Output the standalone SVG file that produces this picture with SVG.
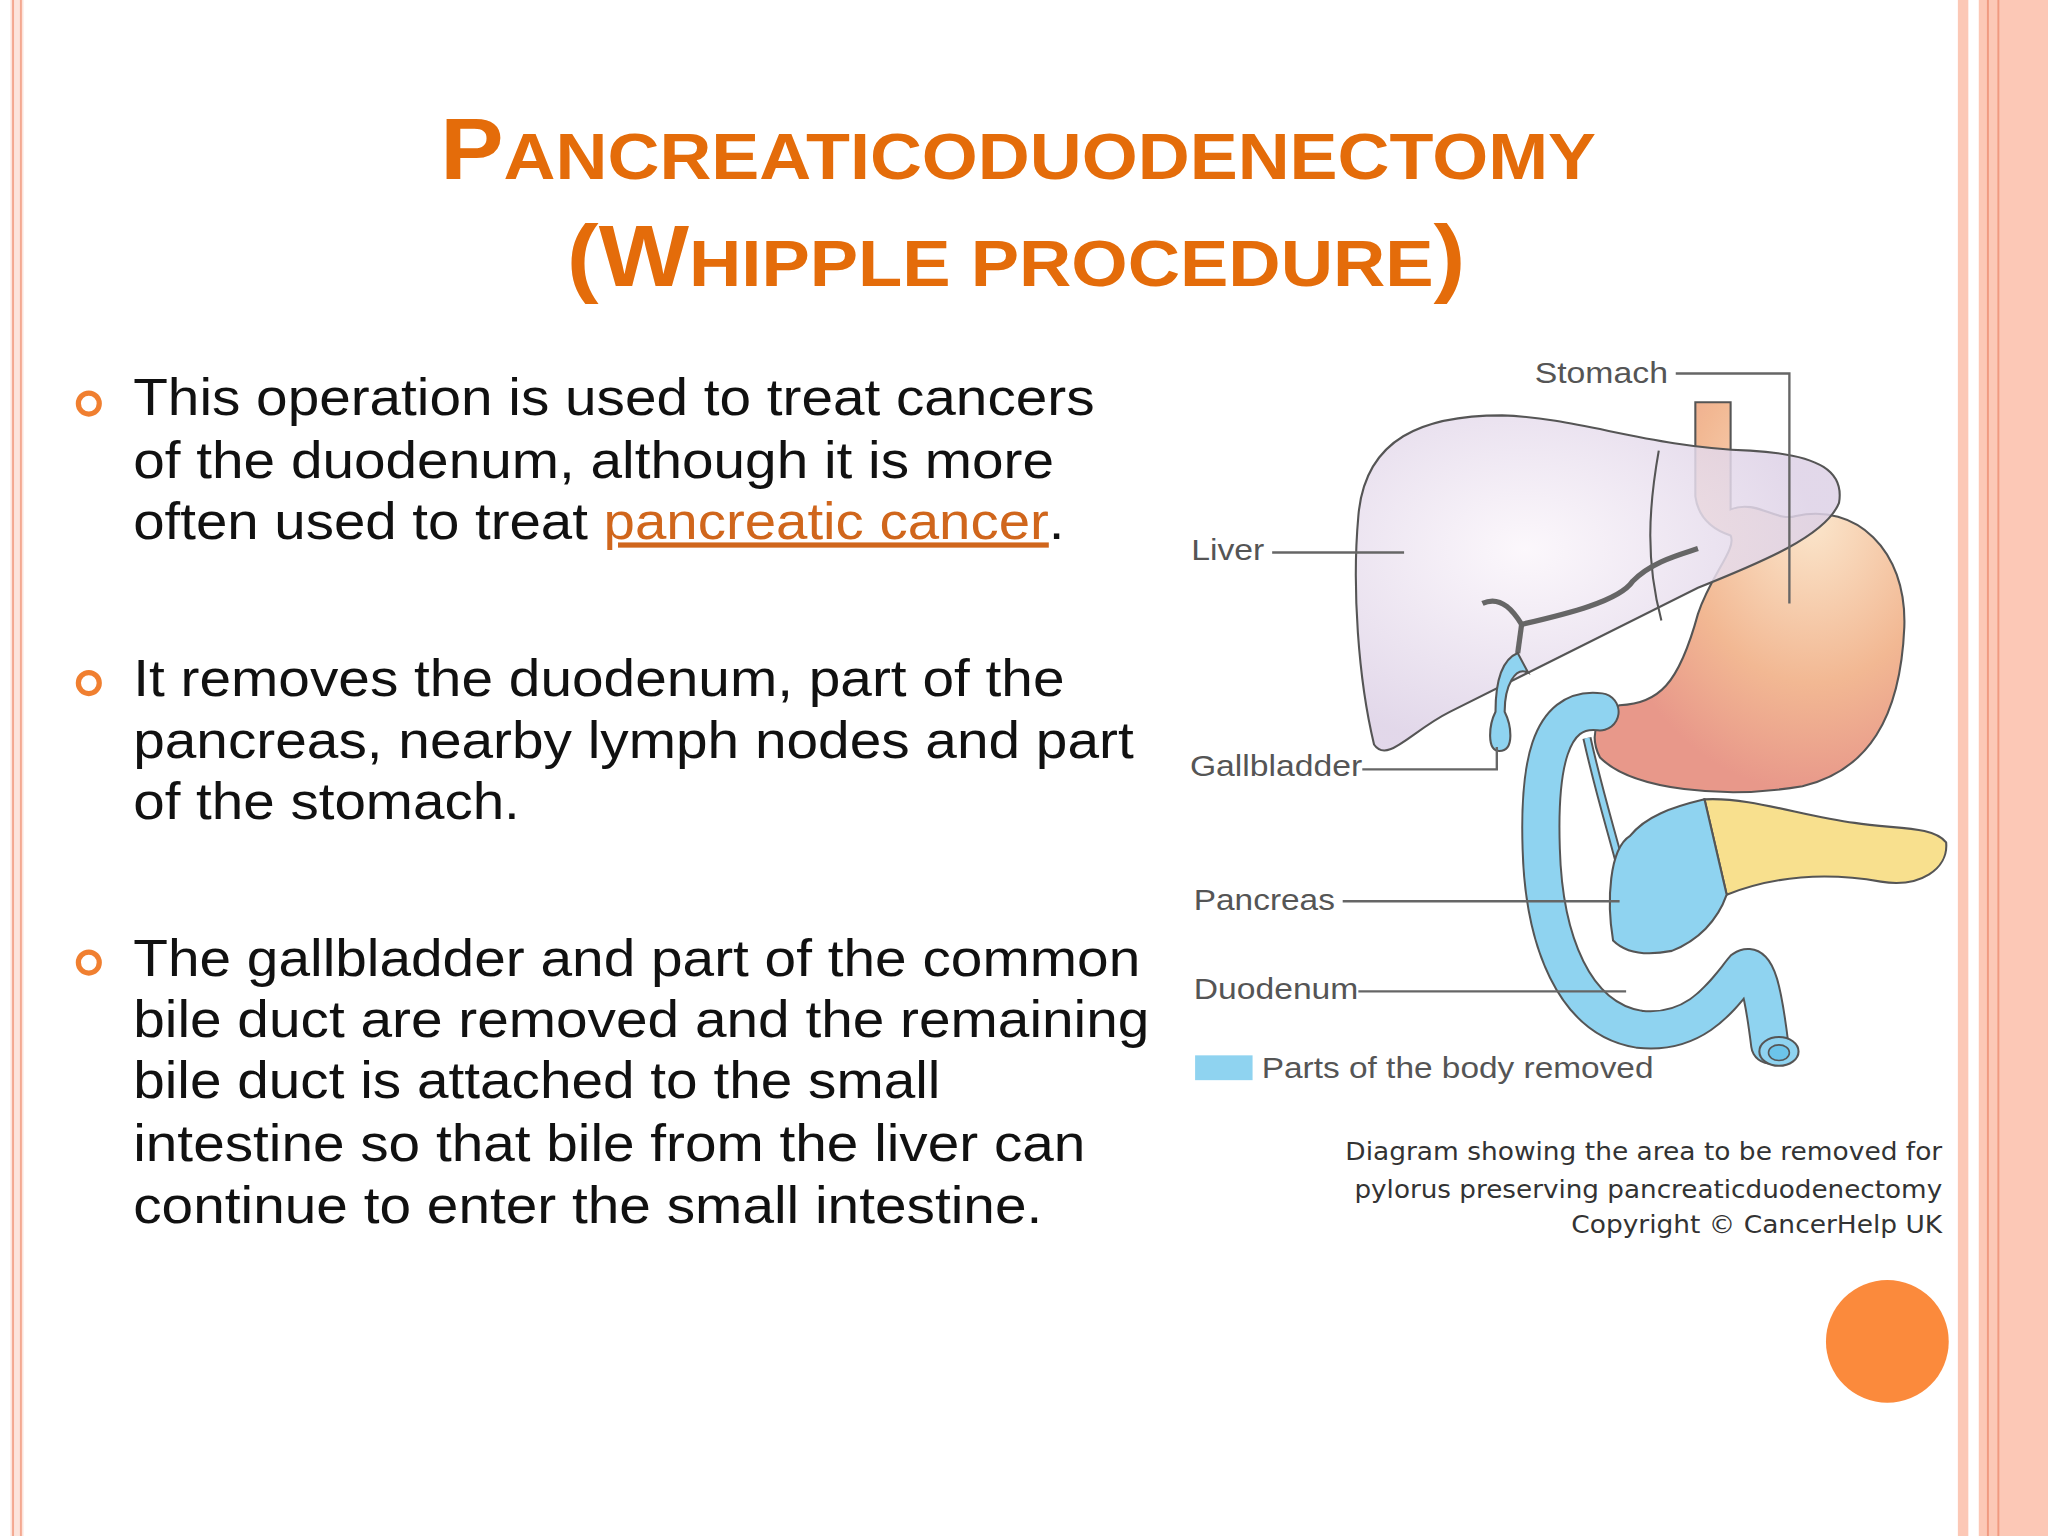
<svg xmlns="http://www.w3.org/2000/svg" width="2048" height="1536" viewBox="0 0 2048 1536">
<style>
.t{font-family:"Liberation Sans",Arial,sans-serif;font-weight:bold;fill:#e46c0a}
.b{font-family:"Liberation Sans",Arial,sans-serif;font-size:40px;fill:#111}
.l{font-family:"Liberation Sans",Arial,sans-serif;font-size:23px;fill:#555}
.c{font-family:"DejaVu Sans",sans-serif;font-size:19px;fill:#333}
.ln{stroke:#666;stroke-width:1.8;fill:none}
.o{stroke:#555;stroke-width:1.6}
</style>
<rect width="2048" height="1536" fill="#fff"/>
<g transform="scale(1.30612)">
<g id="frame">
<rect x="8" y="0" width="10" height="1176" fill="#fce4dc"/>
<line x1="10" y1="0" x2="10" y2="1176" stroke="#f4a890" stroke-width="1.5"/>
<line x1="16" y1="0" x2="16" y2="1176" stroke="#f4a890" stroke-width="1.5"/>
<rect x="1499" y="0" width="8" height="1176" fill="#fcc8b6"/>
<rect x="1515" y="0" width="53" height="1176" fill="#fcc8b6"/>
<line x1="1522" y1="0" x2="1522" y2="1176" stroke="#f09a80" stroke-width="1.5"/>
<line x1="1530" y1="0" x2="1530" y2="1176" stroke="#f09a80" stroke-width="1.5"/>
</g>
<g id="title">
<text class="t" x="337" y="137" textLength="885" lengthAdjust="spacingAndGlyphs"><tspan font-size="66">P</tspan><tspan font-size="50">ANCREATICODUODENECTOMY</tspan></text>
<text class="t" x="434" y="219" textLength="688" lengthAdjust="spacingAndGlyphs"><tspan font-size="66">(W</tspan><tspan font-size="50">HIPPLE PROCEDURE</tspan><tspan font-size="66">)</tspan></text>
</g>
<g id="bullets">
<circle cx="68" cy="309" r="8" fill="none" stroke="#f07f30" stroke-width="4"/>
<circle cx="68" cy="523" r="8" fill="none" stroke="#f07f30" stroke-width="4"/>
<circle cx="68" cy="737" r="8" fill="none" stroke="#f07f30" stroke-width="4"/>
<text class="b" x="102" y="318" textLength="736" lengthAdjust="spacingAndGlyphs">This operation is used to treat cancers</text>
<text class="b" x="102" y="366" textLength="705" lengthAdjust="spacingAndGlyphs">of the duodenum, although it is more</text>
<text class="b" x="102" y="413" textLength="713" lengthAdjust="spacingAndGlyphs">often used to treat <tspan fill="#d0661c" text-decoration="underline">pancreatic cancer</tspan>.</text>
<text class="b" x="102" y="533" textLength="713" lengthAdjust="spacingAndGlyphs">It removes the duodenum, part of the</text>
<text class="b" x="102" y="580" textLength="766" lengthAdjust="spacingAndGlyphs">pancreas, nearby lymph nodes and part</text>
<text class="b" x="102" y="627" textLength="296" lengthAdjust="spacingAndGlyphs">of the stomach.</text>
<text class="b" x="102" y="747" textLength="771" lengthAdjust="spacingAndGlyphs">The gallbladder and part of the common</text>
<text class="b" x="102" y="794" textLength="778" lengthAdjust="spacingAndGlyphs">bile duct are removed and the remaining</text>
<text class="b" x="102" y="841" textLength="618" lengthAdjust="spacingAndGlyphs">bile duct is attached to the small</text>
<text class="b" x="102" y="889" textLength="729" lengthAdjust="spacingAndGlyphs">intestine so that bile from the liver can</text>
<text class="b" x="102" y="936" textLength="696" lengthAdjust="spacingAndGlyphs">continue to enter the small intestine.</text>
</g>
<g id="diagram">
<defs>
<radialGradient id="lv" cx="0.35" cy="0.4" r="0.6"><stop offset="0" stop-color="#fbf6fb"/><stop offset="1" stop-color="#ddd1e6"/></radialGradient>
<radialGradient id="st" cx="0.7" cy="0.3" r="0.7"><stop offset="0" stop-color="#fbe6cc"/><stop offset="0.6" stop-color="#f2b893"/><stop offset="1" stop-color="#e8988a"/></radialGradient>
</defs>
<path id="stomach" class="o" fill="url(#st)" d="M1298,308 L1325,308 L1325,390 C1345,382 1360,400 1375,395 C1420,385 1460,420 1458,480 C1455,550 1430,590 1380,602 C1320,612 1250,605 1225,580 C1215,560 1225,545 1240,540 C1270,538 1285,525 1300,470 C1310,440 1330,420 1325,410 C1310,405 1300,395 1298,380 Z"/>
<path id="liver" class="o" fill="url(#lv)" fill-opacity="0.85" d="M1040,395 C1045,335 1090,318 1150,318 C1210,320 1260,342 1340,345 C1395,348 1412,362 1408,385 C1398,410 1350,430 1300,450 L1110,545 C1080,560 1062,585 1052,570 C1040,520 1035,450 1040,395Z"/>
<path class="o" fill="none" d="M1270,345 C1262,390 1260,430 1272,475"/>
<path d="M1135,462 C1150,455 1160,470 1165,478 C1200,470 1240,460 1250,445 C1265,430 1285,425 1300,420" stroke="#666" stroke-width="4" fill="none"/>
<path d="M1165,478 L1162,500" stroke="#666" stroke-width="4" fill="none"/>
<path id="gall" class="o" fill="#8fd3f0" d="M1162,500 C1150,505 1145,520 1145,545 C1140,555 1138,575 1148,575 C1160,575 1157,555 1152,545 C1152,525 1160,510 1170,515 Z"/>
<path d="M1225,545 C1185,540 1178,590 1180,650 C1182,720 1205,780 1255,788 C1300,793 1320,760 1335,742 C1345,735 1350,760 1355,800" stroke="#555" stroke-width="30" fill="none" stroke-linecap="round"/>
<path id="duod" d="M1225,545 C1185,540 1178,590 1180,650 C1182,720 1205,780 1255,788 C1300,793 1320,760 1335,742 C1345,735 1350,760 1355,800" stroke="#8fd3f0" stroke-width="27" fill="none" stroke-linecap="round"/>
<ellipse cx="1362" cy="805" rx="15" ry="11" fill="#8fd3f0" stroke="#555" stroke-width="1.6"/>
<ellipse cx="1362" cy="806" rx="8" ry="6" fill="#6cc4ea" stroke="#555" stroke-width="1.2"/>
<path d="M1215,565 C1225,610 1235,640 1245,680" stroke="#555" stroke-width="7" fill="none"/>
<path d="M1215,565 C1225,610 1235,640 1245,680" stroke="#8fd3f0" stroke-width="4" fill="none"/>
<path id="pancreasTail" class="o" fill="#f8e08e" d="M1305,612 C1340,610 1380,625 1420,630 C1450,635 1480,632 1490,645 C1492,665 1470,680 1440,675 C1400,668 1360,670 1322,685 Z"/>
<path id="pancreasHead" class="o" fill="#8fd3f0" d="M1305,612 L1322,685 C1315,705 1300,720 1280,728 C1260,732 1245,730 1235,720 C1230,690 1232,650 1248,640 C1260,625 1280,618 1305,612 Z"/>
<rect x="915" y="808" width="44" height="19" fill="#8fd3f0"/>
</g>
<g id="connectors">
<polyline class="ln" points="1283,286 1370,286 1370,462"/>
<line class="ln" x1="974" y1="423" x2="1075" y2="423"/>
<polyline class="ln" points="1043,589 1146,589 1146,572"/>
<line class="ln" x1="1028" y1="690" x2="1240" y2="690"/>
<line class="ln" x1="1040" y1="759" x2="1245" y2="759"/>
</g>
<g id="labels">
<text class="l" x="1175" y="293" textLength="102" lengthAdjust="spacingAndGlyphs">Stomach</text>
<text class="l" x="912" y="429" textLength="56" lengthAdjust="spacingAndGlyphs">Liver</text>
<text class="l" x="911" y="594" textLength="132" lengthAdjust="spacingAndGlyphs">Gallbladder</text>
<text class="l" x="914" y="697" textLength="108" lengthAdjust="spacingAndGlyphs">Pancreas</text>
<text class="l" x="914" y="765" textLength="126" lengthAdjust="spacingAndGlyphs">Duodenum</text>
<text class="l" x="966" y="825" textLength="300" lengthAdjust="spacingAndGlyphs">Parts of the body removed</text>
<text class="c" x="1030" y="888" textLength="457" lengthAdjust="spacingAndGlyphs">Diagram showing the area to be removed for</text>
<text class="c" x="1037" y="917" textLength="450" lengthAdjust="spacingAndGlyphs">pylorus preserving pancreaticduodenectomy</text>
<text class="c" x="1203" y="944" textLength="284" lengthAdjust="spacingAndGlyphs">Copyright © CancerHelp UK</text>
</g>
<circle cx="1445" cy="1027" r="47" fill="#fb8a3c"/>
</g>
</svg>
